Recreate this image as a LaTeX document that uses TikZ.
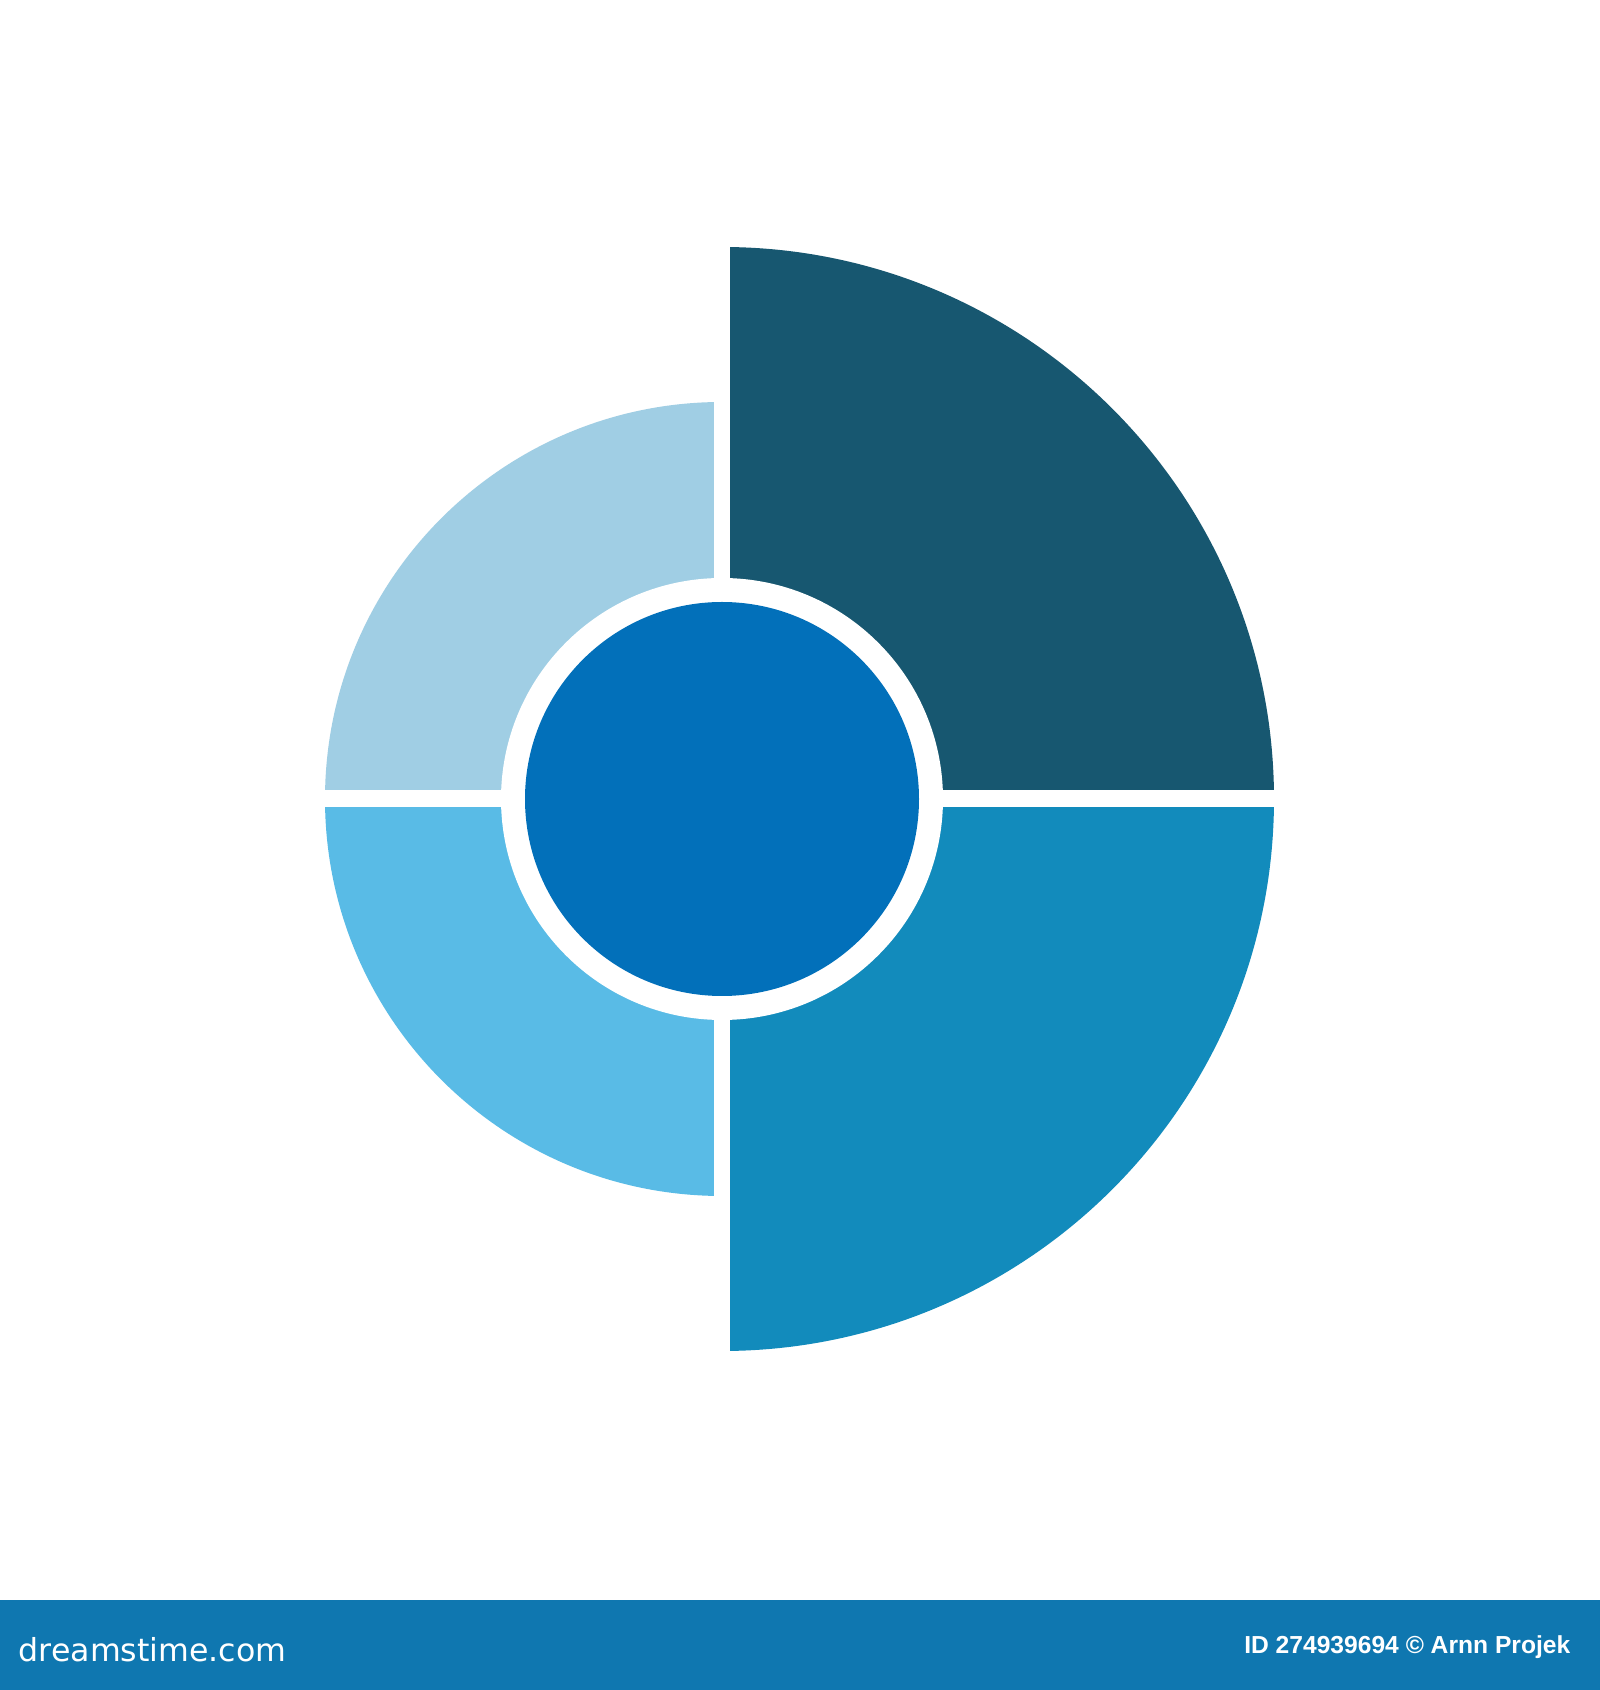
\documentclass[tikz,border=0pt]{standalone}
\usepackage{fontspec}
\setsansfont{Liberation Sans}
\newfontfamily\logofont{DejaVu Sans}
\usetikzlibrary{calc, positioning}

\definecolor{qdark}{HTML}{175770}
\definecolor{qmid}{HTML}{128BBC}
\definecolor{qpale}{HTML}{A0CEE4}
\definecolor{qsky}{HTML}{59BBE6}
\definecolor{qcore}{HTML}{0270BA}
\definecolor{credbar}{HTML}{0F77B0}

\begin{document}
\begin{tikzpicture}[x=0.01cm, y=0.01cm]
  \useasboundingbox (0,0) rectangle (1600,1690);
  \fill[white] (0,0) rectangle (1600,1690);

  \coordinate (C) at (722,891);

  % four quarters
  \fill[qpale] (C) -- ++(-397,0) arc[start angle=180, end angle=90,  radius=397] -- cycle;
  \fill[qsky]  (C) -- ++(-397,0) arc[start angle=180, end angle=270, radius=397] -- cycle;
  \fill[qdark] (C) -- ++(552,0)  arc[start angle=0,   end angle=90,  radius=552] -- cycle;
  \fill[qmid]  (C) -- ++(552,0)  arc[start angle=0,   end angle=-90, radius=552] -- cycle;

  % white gaps
  \draw[white, line width=0.165cm] ($(C)+(0,-570)$) -- ($(C)+(0,570)$);
  \draw[white, line width=0.17cm]  ($(C)+(-410,0)$) -- ($(C)+(570,0)$);

  % centre disc
  \fill[white] (C) circle[radius=221];
  \fill[qcore] (C) circle[radius=197];

  % credit bar
  \fill[credbar] (0,0) rectangle (1600,90);
  \node[anchor=base west, inner sep=0, text=white, font=\logofont\fontsize{9}{10}\selectfont]
    (logo) at (18,28) {dreamstime.com};
  \node[anchor=base east, inner sep=0, text=white, font=\sffamily\bfseries\fontsize{7}{8}\selectfont]
    (credit) at (1571,36) {ID 274939694 © Arnn Projek};
\end{tikzpicture}
\end{document}
